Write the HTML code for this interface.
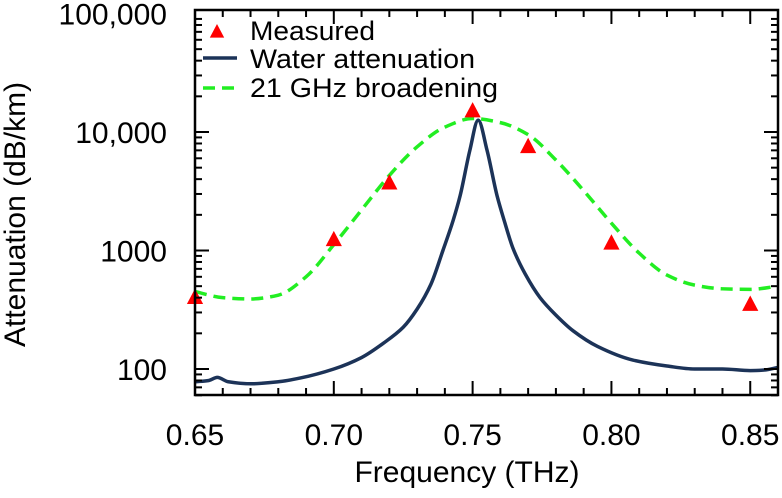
<!DOCTYPE html>
<html><head><meta charset="utf-8"><style>
html,body{margin:0;padding:0;background:#fff;}
svg{display:block;font-family:"Liberation Sans",Arial,sans-serif;}
</style></head><body>
<svg id="chart" width="782" height="498" viewBox="0 0 782 498">
<g id="series"></g>
<g id="axes"></g>
<g id="legend"></g>
</svg>
<script>
const measuredFreq = [0.65, 0.70, 0.72, 0.75, 0.77, 0.80, 0.85];
const measuredVal = [400, 1230, 3700, 15000, 7500, 1150, 350];
const waterFreq = [0.65,0.655,0.658,0.662,0.67,0.68,0.688,0.70,0.71,0.718,0.725,0.73,0.735,0.7393,0.743,0.7455,0.749,0.752,0.7552,0.7588,0.7615,0.7645,0.769,0.7743,0.78,0.7862,0.795,0.8077,0.82,0.83,0.84,0.85,0.855,0.86];
const waterVal = [78,80,85,78,75,78,84,100,125,166,225,320,520,1000,1800,2900,7000,12600,7000,2900,1750,1050,630,400,285,210,155,119,106,100,100,97,98,103];
const broadFreq = [0.65,0.66,0.67,0.68,0.69,0.70,0.71,0.72,0.73,0.74,0.75,0.76,0.77,0.78,0.79,0.80,0.81,0.82,0.83,0.84,0.85,0.86];
const broadVal = [450,400,390,420,600,1120,2200,4300,7500,11000,13000,12000,9500,5800,3200,1700,950,620,510,475,470,500];
const xTicks = [0.65,0.70,0.75,0.80,0.85];
const xTickLabels = ["0.65","0.70","0.75","0.80","0.85"];
const yTicks = [100,1000,10000,100000];
const yTickLabels = ["100","1000","10,000","100,000"];

const L=195,R=778,T=10,B=395;
const x0=0.65,x1=0.86;
const X=f=>L+(f-x0)/(x1-x0)*(R-L);
const Y=v=>369-(Math.log10(v)-2)*118.5;
const NS="http://www.w3.org/2000/svg";
function mk(tag,attrs,parent){const e=document.createElementNS(NS,tag);for(const k in attrs)e.setAttribute(k,attrs[k]);parent.appendChild(e);return e;}
const axes=document.getElementById('axes'),series=document.getElementById('series'),legend=document.getElementById('legend');

const frame=mk('rect',{x:L,y:T,width:R-L,height:B-T,fill:'none',stroke:'#000','stroke-width':2.5},axes);



for(let i=0;i<=21;i++){
  const f=x0+i*0.01; const x=X(f); const major=(i%5===0);
  const len=major?14:7;
  mk('line',{x1:x,y1:B,x2:x,y2:B-len,stroke:'#000','stroke-width':2},axes);
  mk('line',{x1:x,y1:T,x2:x,y2:T+len,stroke:'#000','stroke-width':2},axes);
}
xTicks.forEach((f,i)=>{
  const t=mk('text',{x:X(f),y:445,'text-anchor':'middle','font-size':30,fill:'#000'},axes);
  t.textContent=xTickLabels[i];
  
  
});
for(let d=1;d<=4;d++){
  for(let m=1;m<=9;m++){
    const v=m*Math.pow(10,d); const y=Y(v);
    if(y<T-0.5||y>B+0.5) continue;
    const len=(m===1)?14:7;
    mk('line',{x1:L,y1:y,x2:L+len,y2:y,stroke:'#000','stroke-width':2},axes);
    mk('line',{x1:R,y1:y,x2:R-len,y2:y,stroke:'#000','stroke-width':2},axes);
  }
}
yTicks.forEach((v,i)=>{
  const t=mk('text',{x:167,y:Y(v)+11,'text-anchor':'end','font-size':30,fill:'#000'},axes);
  t.textContent=yTickLabels[i];
  
  
});
const xt=mk('text',{x:467,y:482,'text-anchor':'middle','font-size':30,fill:'#000'},axes);
xt.textContent='Frequency (THz)';


const yt=mk('text',{x:0,y:0,'text-anchor':'start','font-size':30,fill:'#000',transform:'translate(25,347) rotate(-90)'},axes);
yt.textContent='Attenuation (dB/km)';



const defs=mk('defs',{},document.getElementById('chart'));
const cp=mk('clipPath',{id:'clip'},defs);
mk('rect',{x:L,y:T,width:R-L,height:B-T},cp);

function smoothPath(fs,vs){
  const px=fs.map(X), py=vs.map(Y), n=px.length;
  const dx=[],s=[];
  for(let i=0;i<n-1;i++){dx[i]=px[i+1]-px[i];s[i]=(py[i+1]-py[i])/dx[i];}
  const m=new Array(n);
  m[0]=s[0]; m[n-1]=s[n-2];
  for(let i=1;i<n-1;i++){
    if(s[i-1]*s[i]<=0) m[i]=0;
    else { const w1=2*dx[i]+dx[i-1], w2=dx[i]+2*dx[i-1]; m[i]=(w1+w2)/(w1/s[i-1]+w2/s[i]); }
  }
  let d='M'+px[0]+','+py[0];
  for(let i=0;i<n-1;i++){
    const h=dx[i]/3;
    d+=' C'+(px[i]+h)+','+(py[i]+m[i]*h)+' '+(px[i+1]-h)+','+(py[i+1]-m[i+1]*h)+' '+px[i+1]+','+py[i+1];
  }
  return d;
}
const water=mk('path',{d:smoothPath(waterFreq,waterVal),fill:'none',stroke:'#1c3358','stroke-width':3.5,'stroke-linejoin':'round','clip-path':'url(#clip)'},series);


const broad=mk('path',{d:smoothPath(broadFreq,broadVal),fill:'none',stroke:'#22ee22','stroke-width':3.5,'stroke-dasharray':'12,7','clip-path':'url(#clip)'},series);


function tri(cx,cy,s){return `${cx},${cy-s} ${cx-s*0.9},${cy+s*0.7} ${cx+s*0.9},${cy+s*0.7}`;}
measuredFreq.forEach((f,i)=>{
  const m=mk('polygon',{points:tri(X(f),Y(measuredVal[i]),9),fill:'#ff0000'},series);
  
  
});

const lm=mk('polygon',{points:tri(217,32,8),fill:'#ff0000'},legend);


const lw=mk('line',{x1:203,y1:58,x2:237,y2:58,stroke:'#1c3358','stroke-width':3.5},legend);


const lb=mk('line',{x1:203,y1:88,x2:237,y2:88,stroke:'#22ee22','stroke-width':3.5,'stroke-dasharray':'12,7'},legend);


[['Measured',40,125],['Water attenuation',68,225],['21 GHz broadening',97,248]].forEach(([s,y,w])=>{
  const t=mk('text',{x:250,y:y,'font-size':27,fill:'#000',textLength:w,lengthAdjust:'spacingAndGlyphs'},legend);
  t.textContent=s;
  
  
});
</script>
</body></html>
